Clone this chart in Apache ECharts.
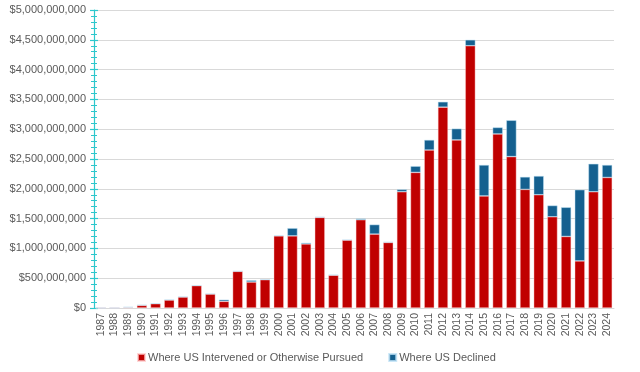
<!DOCTYPE html>
<html><head><meta charset="utf-8">
<script src="https://cdn.jsdelivr.net/npm/echarts@6/dist/echarts.min.js"></script>
<style>html,body{margin:0;padding:0;background:#fff}#c{width:640px;height:372px}</style>
</head><body><div id="c"></div>
<script>
const years = ['1987','1988','1989','1990','1991','1992','1993','1994','1995','1996','1997','1998','1999','2000','2001','2002','2003','2004','2005','2006','2007','2008','2009','2010','2011','2012','2013','2014','2015','2016','2017','2018','2019','2020','2021','2022','2023','2024'];
const intervened = [0,0,10e6,45e6,72e6,135e6,185e6,375e6,235e6,112e6,615e6,436e6,475e6,1210e6,1210e6,1075e6,1520e6,550e6,1140e6,1480e6,1240e6,1100e6,1950e6,2275e6,2650e6,3370e6,2820e6,4400e6,1880e6,2920e6,2540e6,1990e6,1900e6,1530e6,1200e6,790e6,1950e6,2190e6];
const declined = [0,0,8e6,8e6,6e6,5e6,5e6,5e6,5e6,28e6,5e6,29e6,5e6,10e6,130e6,20e6,10e6,9e6,6e6,20e6,160e6,10e6,40e6,105e6,170e6,90e6,190e6,100e6,520e6,110e6,610e6,210e6,315e6,190e6,490e6,1195e6,470e6,210e6];
const yTicks = {min: 0, max: 5e9, step: 5e8};

const fmt = v => '$' + Math.round(v).toLocaleString('en-US');
const axisCommon = {
  type: 'value', min: yTicks.min, max: yTicks.max, interval: yTicks.step, position: 'left'
};
const chart = echarts.init(document.getElementById('c'));
chart.setOption({
  animation: false,
  textStyle: {fontFamily: 'Liberation Sans, Arial, sans-serif'},
  grid: {left: 94, right: 26, top: 10, bottom: 64},
  legend: {
    top: 347, left: 132, itemWidth: 7, itemHeight: 7, itemGap: 25,
    icon: 'rect',
    textStyle: {color: '#595959', fontSize: 11, padding: [0, 0, 0, -2], fontFamily: 'Liberation Sans, Arial, sans-serif'},
    data: ['Where US Intervened or Otherwise Pursued', 'Where US Declined']
  },
  xAxis: {
    type: 'category', data: years,
    axisLine: {lineStyle: {color: '#d9d9d9'}},
    axisTick: {show: false},
    axisLabel: {rotate: 90, color: '#595959', fontSize: 10.5, interval: 0, margin: 5, fontFamily: 'Liberation Sans, Arial, sans-serif'}
  },
  yAxis: [
    Object.assign({}, axisCommon, {
      axisLine: {show: true, lineStyle: {color: '#2cc7cc', width: 1.2}},
      axisTick: {show: true, length: 4, lineStyle: {color: '#2cc7cc', width: 1.2}},
      minorTick: {show: true, splitNumber: 5, length: 3, lineStyle: {color: '#2cc7cc', width: 1}},
      splitLine: {show: true, lineStyle: {color: '#d9d9d9', width: 1}},
      axisLabel: {formatter: fmt, color: '#595959', fontSize: 11, margin: 8, fontFamily: 'Liberation Sans, Arial, sans-serif'}
    }),
    Object.assign({}, axisCommon, {
      axisLine: {show: false},
      axisTick: {show: true, inside: true, length: 4, lineStyle: {color: '#2cc7cc', width: 1.2}},
      minorTick: {show: true, splitNumber: 5, length: 3, lineStyle: {color: '#2cc7cc', width: 1}},
      splitLine: {show: false},
      axisLabel: {show: false}
    })
  ],
  series: [
    {
      name: 'Where US Intervened or Otherwise Pursued', type: 'bar', stack: 'a',
      data: intervened, barCategoryGap: '26%',
      itemStyle: {color: '#c00000', borderColor: 'rgba(255,200,200,0.7)', borderWidth: 0.6}
    },
    {
      name: 'Where US Declined', type: 'bar', stack: 'a',
      data: declined,
      itemStyle: {color: '#14608f', borderColor: 'rgba(190,225,245,0.8)', borderWidth: 0.6}
    }
  ]
});
</script></body></html>
